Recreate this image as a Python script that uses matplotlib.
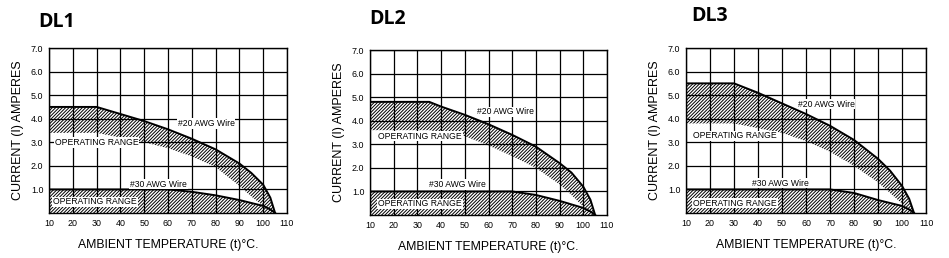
import matplotlib
matplotlib.use("Agg")
import matplotlib.pyplot as plt

plt.rcParams['font.family'] = ['Liberation Sans', 'DejaVu Sans']
plt.rcParams['hatch.linewidth'] = 0.7

titles = ["DL1", "DL2", "DL3"]
x_ticks = [10, 20, 30, 40, 50, 60, 70, 80, 90, 100, 110]
y_ticks = [1.0, 2.0, 3.0, 4.0, 5.0, 6.0, 7.0]
y_tick_labels = ["1.0", "2.0", "3.0", "4.0", "5.0", "6.0", "7.0"]

# #20 AWG wire upper curve and lower edge of hatched band
dl1_20_x = [10, 30, 40, 50, 60, 70, 80, 90, 95, 100, 103, 105]
dl1_20_hi = [4.5, 4.5, 4.2, 3.9, 3.55, 3.15, 2.7, 2.1, 1.7, 1.2, 0.65, 0.0]
dl1_20_lo = [3.4, 3.4, 3.2, 3.0, 2.75, 2.4, 1.95, 1.15, 0.7, 0.3, 0.1, 0.0]
dl2_20_x = [10, 35, 40, 50, 60, 70, 80, 90, 95, 100, 103, 105]
dl2_20_hi = [4.8, 4.8, 4.6, 4.25, 3.85, 3.4, 2.9, 2.2, 1.8, 1.2, 0.65, 0.0]
dl2_20_lo = [3.6, 3.6, 3.5, 3.35, 2.95, 2.5, 2.0, 1.3, 0.85, 0.35, 0.1, 0.0]
dl3_20_x = [10, 30, 40, 50, 60, 70, 80, 90, 95, 100, 103, 105]
dl3_20_hi = [5.5, 5.5, 5.1, 4.65, 4.2, 3.7, 3.1, 2.3, 1.8, 1.15, 0.6, 0.0]
dl3_20_lo = [3.8, 3.8, 3.6, 3.4, 3.05, 2.6, 2.0, 1.3, 0.85, 0.4, 0.1, 0.0]

# #30 AWG wire curve (hatched down to zero)
dl1_30_x = [10, 60, 70, 80, 90, 100, 103, 105]
dl1_30_y = [1.0, 1.0, 0.9, 0.75, 0.55, 0.3, 0.15, 0.0]
dl2_30_x = [10, 70, 80, 90, 100, 103, 105]
dl2_30_y = [1.0, 1.0, 0.85, 0.6, 0.3, 0.15, 0.0]
dl3_30_x = [10, 70, 80, 90, 100, 103, 105]
dl3_30_y = [1.0, 1.0, 0.85, 0.55, 0.3, 0.15, 0.0]

# label positions (data coords): #20 label, top range label, #30 label, bottom range label
labels_20 = [(64, 3.8), (55, 4.37), (56.5, 4.62)]
labels_r1 = [(12.5, 3.0), (13.4, 3.35), (13, 3.27)]
labels_30 = [(44, 1.23), (35, 1.3), (37.5, 1.27)]
labels_r2 = [(11.7, 0.47), (13.4, 0.47), (13, 0.42)]

data20 = [(dl1_20_x, dl1_20_hi, dl1_20_lo), (dl2_20_x, dl2_20_hi, dl2_20_lo), (dl3_20_x, dl3_20_hi, dl3_20_lo)]
data30 = [(dl1_30_x, dl1_30_y), (dl2_30_x, dl2_30_y), (dl3_30_x, dl3_30_y)]

W, H = 949, 258
fig = plt.figure(figsize=(W / 100, H / 100), dpi=100)

axes_px = [(49, 48, 238, 165), (370, 50, 237, 165), (686, 48, 240, 165)]
title_px = [(57, 22), (388, 19), (710, 16)]

for i in range(3):
    l, t, w, h = axes_px[i]
    ax = fig.add_axes([l / W, 1 - (t + h) / H, w / W, h / H])
    ax.set_xlim(10, 110)
    ax.set_ylim(0, 7)
    ax.set_xticks(x_ticks)
    ax.set_yticks(y_ticks)
    ax.set_yticklabels(y_tick_labels)
    ax.tick_params(length=0, labelsize=6.4, pad=4)
    ax.grid(True, color='black', linewidth=0.9)
    ax.set_axisbelow(True)
    for s in ax.spines.values():
        s.set_linewidth(1.0)

    x20, hi, lo = data20[i]
    ax.fill_between(x20, lo, hi, facecolor='none', edgecolor='black', hatch='//////////', linewidth=0, zorder=2)
    ax.plot(x20, hi, color='black', lw=1.4, zorder=3)

    x30, y30 = data30[i]
    ax.fill_between(x30, 0, y30, facecolor='none', edgecolor='black', hatch='//////////', linewidth=0, zorder=2)
    ax.plot(x30, y30, color='black', lw=1.4, zorder=3)

    bb = dict(facecolor='white', edgecolor='none', pad=0.6)
    ax.text(*labels_20[i], "#20 AWG Wire", fontsize=6.2, ha='left', va='center', zorder=4, bbox=bb)
    ax.text(*labels_r1[i], "OPERATING RANGE", fontsize=6.2, ha='left', va='center', zorder=4, bbox=bb)
    ax.text(*labels_30[i], "#30 AWG Wire", fontsize=6.2, ha='left', va='center', zorder=4, bbox=bb)
    ax.text(*labels_r2[i], "OPERATING RANGE", fontsize=6.2, ha='left', va='center', zorder=4, bbox=bb)

    ax.set_xlabel("AMBIENT TEMPERATURE (t)°C.", fontsize=8.8, labelpad=8)
    ax.set_ylabel("CURRENT (I) AMPERES", fontsize=9, labelpad=5)

    tx, ty = title_px[i]
    fig.text(tx / W, 1 - ty / H, titles[i], fontsize=14, fontweight='bold',
             family=['Open Sans', 'DejaVu Sans'], ha='center', va='center')

fig.savefig("out.png", dpi=100)
